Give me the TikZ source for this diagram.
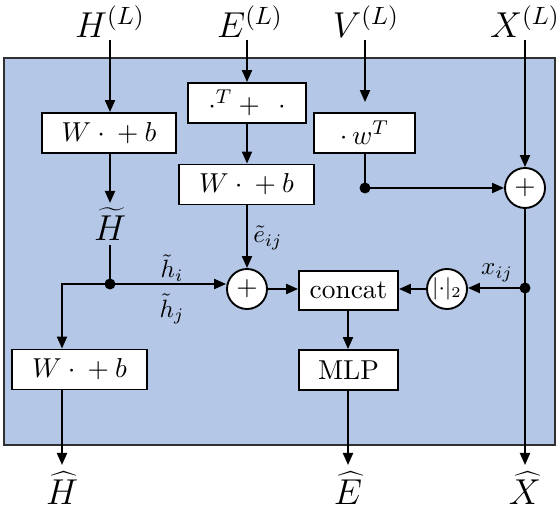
\documentclass[tikz,border=0pt]{standalone}
\usetikzlibrary{arrows.meta}
\definecolor{bgblue}{HTML}{B4C7E7}
\definecolor{edge}{HTML}{303030}
\begin{document}
\begin{tikzpicture}[x=0.4pt,y=-0.4pt,
  line width=0.8pt,
  >={Triangle[length=4.8pt,width=4pt]},
  box/.style={draw=black,fill=white,line width=0.75pt,minimum height=16pt,inner sep=0pt,
    font=\fontsize{10.95}{13}\selectfont},
  opc/.style={circle,draw=black,fill=white,line width=0.75pt,minimum size=16pt,inner sep=0pt,
    font=\fontsize{10.95}{13}\selectfont},
  lbl/.style={inner sep=0pt,font=\fontsize{14.4}{17}\selectfont},
  slbl/.style={inner sep=0.5pt,font=\fontsize{10}{12}\selectfont},
  dot/.style={circle,fill=black,inner sep=0pt,minimum size=4.4pt}]
\useasboundingbox (0,0) rectangle (558,510);
\fill[bgblue,draw=edge,line width=0.8pt] (4,58) rectangle (555,445);

% top labels
\node[lbl] (HL) at (110,22) {$H^{(L)}$};
\node[lbl] (EL) at (250,22) {$E^{(L)}$};
\node[lbl] (VL) at (366,22) {$V^{(L)}$};
\node[lbl] (XL) at (525,22) {$X^{(L)}$};
\coordinate (HLs) at (110,40);
\coordinate (ELs) at (247,40);
\coordinate (VLs) at (365,40);
\coordinate (XLs) at (525,40);

% boxes
\node[box,minimum width=53.6pt] (W1) at (109,133) {$W\cdot{}+b$};
\node[box,minimum width=47.2pt] (T1) at (247,103) {$\cdot^{T}+\;\,\cdot$};
\node[box,minimum width=54pt] (W2) at (246.5,184.5) {$W\cdot{}+b$};
\node[box,minimum width=40.4pt] (WT) at (364.5,133) {$\cdot\, w^{T}$};
\node[box,minimum width=54pt] (W3) at (79.5,369.5) {$W\cdot{}+b$};
\node[box,minimum width=39.6pt,minimum height=15.6pt] (CC) at (348.5,290.5) {concat};
\node[box,minimum width=39.6pt] (ML) at (348.5,370) {MLP};

% operators
\node[opc] (P1) at (525,188) {$+$};
\node[opc] (P2) at (247,289) {$+$};
\node[opc,font=\fontsize{9}{11}\selectfont] (N2) at (447,289) {$|{\cdot}|_2$};

% dots
\node[dot] (D1) at (365,188) {};
\node[dot] (D2) at (110,284) {};
\node[dot] (D3) at (525,288) {};

% intermediate labels
\node[lbl,inner sep=1.5pt] (Ht) at (110,224) {$\widetilde{H}$};
\node[slbl,anchor=west] (eij) at (251,238) {$\tilde{e}_{ij}$};
\node[slbl] (hi) at (172,268) {$\tilde{h}_i$};
\node[slbl] (hj) at (172,309) {$\tilde{h}_j$};
\node[slbl] (xij) at (497,273) {$x_{ij}$};

% bottom labels
\node[lbl] (Hh) at (62,488) {$\widehat{H}$};
\node[lbl] (Eh) at (348,488) {$\widehat{E}$};
\node[lbl] (Xh) at (525,488) {$\widehat{X}$};
\coordinate (Hhe) at (62,465);
\coordinate (Ehe) at (348,465);
\coordinate (Xhe) at (525,465);

% connectors
\draw[->] (HLs) -- (W1.north -| HLs);
\draw[->] (ELs) -- (T1.north -| ELs);
\draw[->,shorten >=4pt] (VLs) -- (WT.north -| VLs);
\draw[->] (XLs) -- (P1.north);
\draw[->] (T1) -- (W2.north -| T1);
\draw[->] (W1.south -| HLs) -- (Ht.north -| HLs);
\draw (Ht.south -| HLs) -- (D2.center);
\draw[->] (D2.center) -- (P2.west |- D2);
\draw[->] (D2.center) -| (W3.north -| Hhe);
\draw[->] (W3.south -| Hhe) -- (Hhe);
\draw[->] (W2.south -| P2) -- (P2.north);
\draw (WT.south -| D1) -- (D1.center);
\draw[->] (D1.center) -- (P1.west);
\draw (P1.south) -- (D3.center);
\draw[->] (D3.center) -- (Xhe);
\draw[->] (D3.center) -- (N2.east |- D3);
\draw[->] (N2.west) -- (CC.east |- N2);
\draw[->] (P2.east) -- (CC.west |- P2);
\draw[->] (CC.south -| Ehe) -- (ML.north -| Ehe);
\draw[->] (ML.south -| Ehe) -- (Ehe);
\end{tikzpicture}
\end{document}
